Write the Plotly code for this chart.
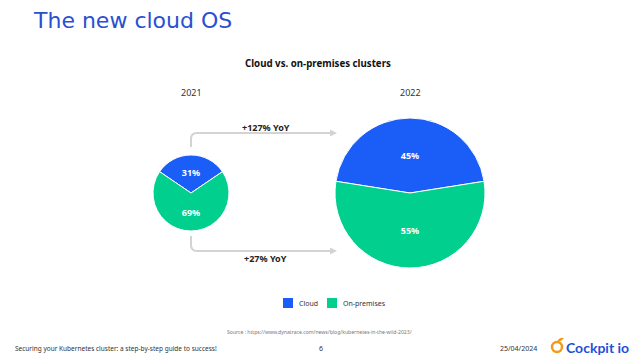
import plotly.graph_objects as go

W, H = 638, 359          # window size (reference pixel space)
OFF = 8                  # default page body margin (top/left)
FW, FH = W - OFF, H - OFF

years = ["2021", "2022"]
categories = ["Cloud", "On-premises"]
cloud_share = [31, 45]
onprem_share = [69, 55]
yoy_labels = ["+127% YoY", "+27% YoY"]
colors = ["#1b5ef7", "#00cf8e"]

title_text = "The new cloud OS"
chart_title = "Cloud vs. on-premises clusters"
source_text = "Source : https://www.dynatrace.com/news/blog/kubernetes-in-the-wild-2023/"
footer_left = "Securing your Kubernetes cluster: a step-by-step guide to success!"
footer_page = "6"
footer_date = "25/04/2024"
brand = "Cockpit io"

# pie geometry in reference pixels (center x, center y, radius)
pies = [(191, 193, 38), (410, 193, 75)]


def dom(cx, cy, r):
    return dict(x=[(cx - r - OFF) / FW, (cx + r - OFF) / FW],
                y=[1 - (cy + r - OFF) / FH, 1 - (cy - r - OFF) / FH])


fig = go.Figure()

for i, (yr, c, o) in enumerate(zip(years, cloud_share, onprem_share)):
    cx, cy, r = pies[i]
    fig.add_trace(go.Pie(
        labels=categories,
        values=[c, o],
        sort=False,
        direction="clockwise",
        rotation=-c * 3.6 / 2,
        marker=dict(colors=colors, line=dict(color="white", width=1)),
        texttemplate="%{value}%",
        textposition="inside",
        insidetextorientation="horizontal",
        textfont=dict(family="Noto Sans", size=9, color="white", weight="bold"),
        domain=dom(cx, cy, r),
        showlegend=False,
        hoverinfo="label+value",
        name=yr,
    ))

# hidden axes mapped to reference pixel space
fig.update_layout(
    xaxis=dict(range=[OFF, OFF + FW], visible=False, domain=[0, 1], fixedrange=True),
    yaxis=dict(range=[OFF + FH, OFF], visible=False, domain=[0, 1], fixedrange=True),
)
fig.add_trace(go.Scatter(x=[OFF + 1], y=[OFF + 1], mode="markers", marker=dict(opacity=0),
                         showlegend=False, hoverinfo="skip"))

gray = "#d3d3d3"
rad = 6
x0, xend = 191, 331
# top arrow
ytop, ystart = 133, 147
fig.add_shape(type="path", xref="x", yref="y",
              path=f"M {x0},{ystart} L {x0},{ytop + rad} Q {x0},{ytop} {x0 + rad},{ytop} L {xend},{ytop}",
              line=dict(color=gray, width=2))
fig.add_shape(type="path", xref="x", yref="y",
              path=f"M {xend - 1},{ytop - 3.5} L {xend + 6},{ytop} L {xend - 1},{ytop + 3.5} Z",
              fillcolor=gray, line=dict(color=gray, width=0))
# bottom arrow
ybot, ystart2 = 251, 236
fig.add_shape(type="path", xref="x", yref="y",
              path=f"M {x0},{ystart2} L {x0},{ybot - rad} Q {x0},{ybot} {x0 + rad},{ybot} L {xend},{ybot}",
              line=dict(color=gray, width=2))
fig.add_shape(type="path", xref="x", yref="y",
              path=f"M {xend - 1},{ybot - 3.5} L {xend + 6},{ybot} L {xend - 1},{ybot + 3.5} Z",
              fillcolor=gray, line=dict(color=gray, width=0))

ann = []
ann.append(dict(x=31, y=20, xref="x", yref="y", text=title_text, showarrow=False,
                xanchor="left", yanchor="middle",
                font=dict(family="DejaVu Sans", size=22, color="#2a50d2")))
ann.append(dict(x=318, y=63, xref="x", yref="y", text=f"<b>{chart_title}</b>", showarrow=False,
                font=dict(family="Noto Sans", size=9.7, color="#111")))
for i, yr in enumerate(years):
    ann.append(dict(x=pies[i][0], y=92, xref="x", yref="y", text=yr, showarrow=False,
                    font=dict(family="Noto Sans", size=9, color="#333")))
ann.append(dict(x=266, y=127, xref="x", yref="y", text=f"<b>{yoy_labels[0]}</b>", showarrow=False,
                font=dict(family="Noto Sans", size=9, color="#222")))
ann.append(dict(x=265, y=258, xref="x", yref="y", text=f"<b>{yoy_labels[1]}</b>", showarrow=False,
                font=dict(family="Noto Sans", size=9, color="#222")))

# legend (drawn as swatches + labels)
leg_x = [288, 332]
for cat, col, lx in zip(categories, colors, leg_x):
    fig.add_shape(type="rect", xref="x", yref="y", x0=lx - 5, x1=lx + 5, y0=298, y1=308,
                  fillcolor=col, line=dict(width=0))
    ann.append(dict(x=lx + 9, y=303, xref="x", yref="y", text=cat, showarrow=False,
                    xanchor="left", font=dict(family="Noto Sans", size=7, color="#333")))

ann.append(dict(x=319, y=332, xref="x", yref="y", text=source_text, showarrow=False,
                font=dict(family="Noto Sans", size=5.1, color="#777")))
ann.append(dict(x=13, y=348, xref="x", yref="y", text=footer_left, showarrow=False,
                xanchor="left", font=dict(family="Noto Sans", size=6.5, color="#333")))
ann.append(dict(x=321, y=348, xref="x", yref="y", text=footer_page, showarrow=False,
                font=dict(family="Noto Sans", size=7, color="#333")))
ann.append(dict(x=518, y=348, xref="x", yref="y", text=footer_date, showarrow=False,
                font=dict(family="Noto Sans", size=7, color="#333")))
ann.append(dict(x=564, y=347, xref="x", yref="y", text=f"<b>{brand}</b>", showarrow=False,
                xanchor="left", font=dict(family="Lato", size=14, color="#1f4fd8")))

# logo icon
fig.add_shape(type="circle", xref="x", yref="y", x0=552, x1=562, y0=342, y1=352,
              line=dict(color="#f39a1e", width=2.5))
fig.add_shape(type="path", xref="x", yref="y",
              path="M 557,342 Q 559,337 564,338 Q 561,342 557,342 Z",
              fillcolor="#f39a1e", line=dict(color="#f39a1e", width=0))

fig.update_layout(
    width=FW, height=FH,
    margin=dict(l=0, r=0, t=0, b=0),
    paper_bgcolor="white", plot_bgcolor="white",
    annotations=ann,
    showlegend=False,
)

fig.write_html("out.html")
